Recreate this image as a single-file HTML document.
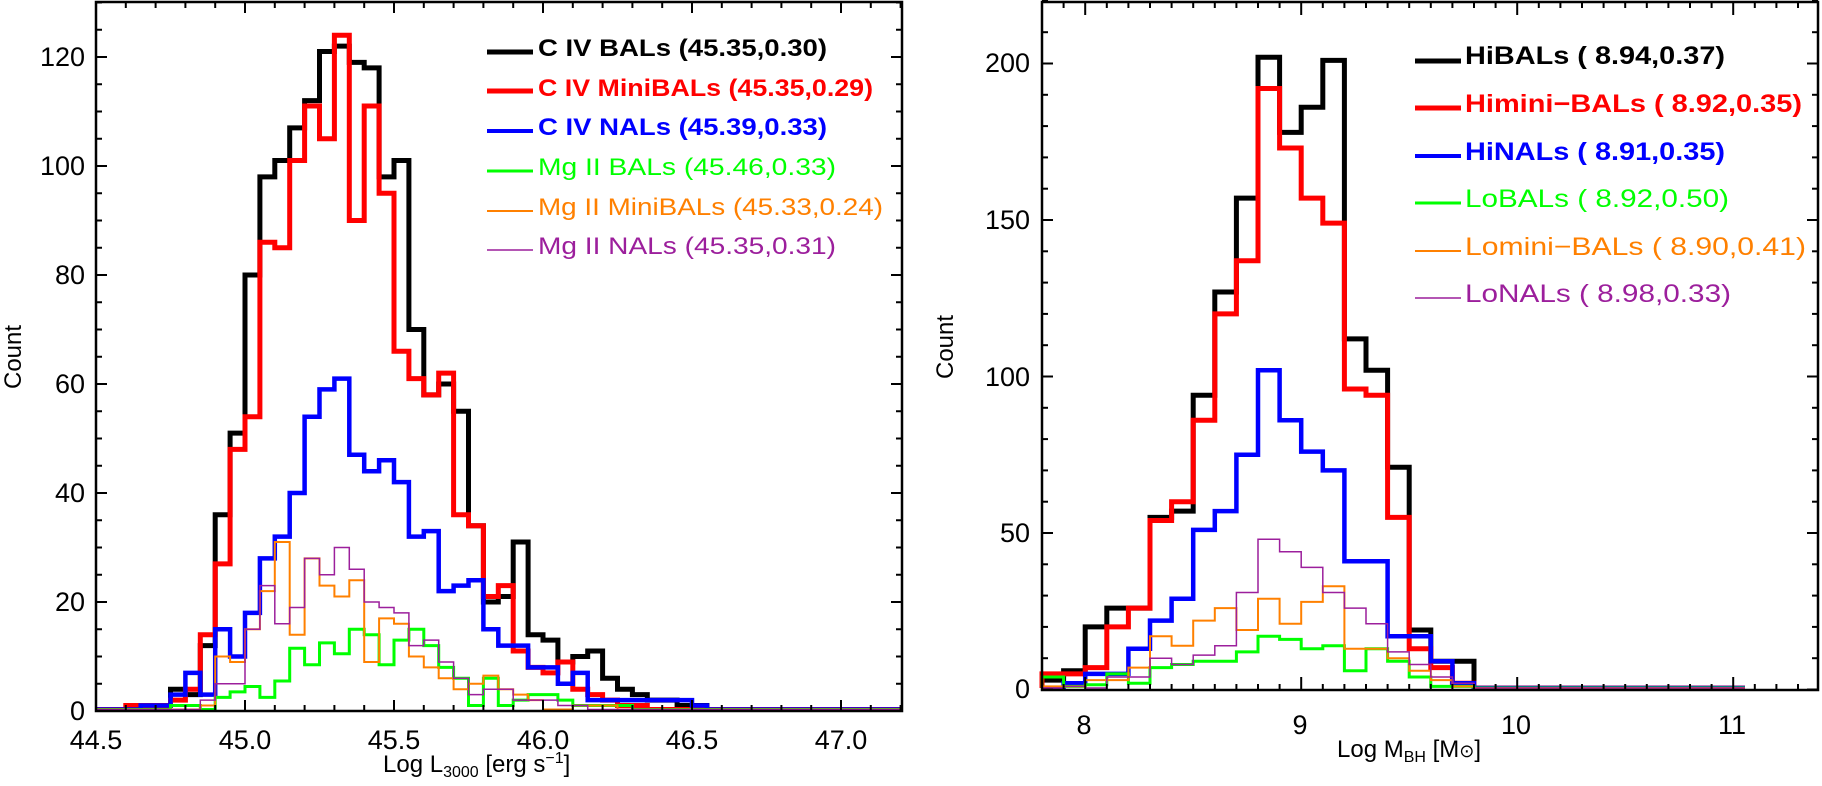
<!DOCTYPE html>
<html><head><meta charset="utf-8">
<style>
html,body{margin:0;padding:0;background:#fff;}
svg{display:block;}
text{font-family:"Liberation Sans","DejaVu Sans",sans-serif;}
</style></head>
<body>
<svg id="s" width="1822" height="786" viewBox="0 0 1822 786" xmlns="http://www.w3.org/2000/svg">
<rect width="1822" height="786" fill="#fff"/>
<g id="lp"></g>
<g id="rp"></g>
<g id="ticks" stroke="#000" stroke-width="2"></g>
<rect x="96" y="2" width="806" height="709" fill="none" stroke="#000" stroke-width="2.5"/>
<rect x="1042" y="2" width="776" height="688" fill="none" stroke="#000" stroke-width="2.5"/>

<g font-size="27" fill="#000" text-anchor="middle">
<text x="96" y="749">44.5</text>
<text x="245" y="749">45.0</text>
<text x="394" y="749">45.5</text>
<text x="543" y="749">46.0</text>
<text x="692" y="749">46.5</text>
<text x="841" y="749">47.0</text>
<text x="1084" y="734">8</text>
<text x="1300" y="734">9</text>
<text x="1516" y="734">10</text>
<text x="1732" y="734">11</text>
</g>
<g font-size="27" fill="#000" text-anchor="end">
<text x="85" y="720">0</text>
<text x="85" y="611">20</text>
<text x="85" y="502">40</text>
<text x="85" y="393">60</text>
<text x="85" y="284">80</text>
<text x="85" y="175">100</text>
<text x="85" y="66">120</text>
<text x="1030" y="698">0</text>
<text x="1030" y="542">50</text>
<text x="1030" y="386">100</text>
<text x="1030" y="229">150</text>
<text x="1030" y="72">200</text>
</g>
<text font-size="24" transform="translate(21,357) rotate(-90)" text-anchor="middle">Count</text>
<text font-size="24" transform="translate(953,347) rotate(-90)" text-anchor="middle">Count</text>
<text font-size="24" x="383" y="772">Log L<tspan font-size="16" dy="5">3000</tspan><tspan dy="-5"> [erg s</tspan><tspan font-size="16" dy="-9">−1</tspan><tspan dy="9">]</tspan></text>
<text font-size="24" x="1337" y="757">Log M<tspan font-size="16" dy="5">BH</tspan><tspan dy="-5"> [M</tspan><tspan font-size="18">⊙</tspan>]</text>

<g>
<line x1="487" y1="52" x2="533" y2="52" stroke="#000" stroke-width="5"/>
<line x1="487" y1="91" x2="533" y2="91" stroke="#f00" stroke-width="5"/>
<line x1="487" y1="131" x2="533" y2="131" stroke="#00f" stroke-width="4"/>
<line x1="487" y1="171" x2="533" y2="171" stroke="#0f0" stroke-width="3"/>
<line x1="487" y1="211" x2="533" y2="211" stroke="#ff8000" stroke-width="2"/>
<line x1="487" y1="250" x2="533" y2="250" stroke="#9c1f9c" stroke-width="1.5"/>
<g font-size="24">
<text x="538" y="56" font-weight="bold" fill="#000" textLength="289" lengthAdjust="spacingAndGlyphs">C IV BALs (45.35,0.30)</text>
<text x="538" y="96" font-weight="bold" fill="#f00" textLength="335" lengthAdjust="spacingAndGlyphs">C IV MiniBALs (45.35,0.29)</text>
<text x="538" y="135" font-weight="bold" fill="#00f" textLength="289" lengthAdjust="spacingAndGlyphs">C IV NALs (45.39,0.33)</text>
<text x="538" y="175" fill="#0f0" textLength="298" lengthAdjust="spacingAndGlyphs">Mg II BALs (45.46,0.33)</text>
<text x="538" y="215" fill="#ff8000" textLength="345" lengthAdjust="spacingAndGlyphs">Mg II MiniBALs (45.33,0.24)</text>
<text x="538" y="254" fill="#9c1f9c" textLength="298" lengthAdjust="spacingAndGlyphs">Mg II NALs (45.35,0.31)</text>
</g>
</g>
<g>
<line x1="1415" y1="61" x2="1461" y2="61" stroke="#000" stroke-width="5"/>
<line x1="1415" y1="108" x2="1461" y2="108" stroke="#f00" stroke-width="5"/>
<line x1="1415" y1="156" x2="1461" y2="156" stroke="#00f" stroke-width="4"/>
<line x1="1415" y1="203" x2="1461" y2="203" stroke="#0f0" stroke-width="3"/>
<line x1="1415" y1="251" x2="1461" y2="251" stroke="#ff8000" stroke-width="2"/>
<line x1="1415" y1="298" x2="1461" y2="298" stroke="#9c1f9c" stroke-width="1.5"/>
<g font-size="25">
<text x="1465" y="64" font-weight="bold" fill="#000" textLength="260" lengthAdjust="spacingAndGlyphs">HiBALs ( 8.94,0.37)</text>
<text x="1465" y="112" font-weight="bold" fill="#f00" textLength="337" lengthAdjust="spacingAndGlyphs">Himini−BALs ( 8.92,0.35)</text>
<text x="1465" y="160" font-weight="bold" fill="#00f" textLength="260" lengthAdjust="spacingAndGlyphs">HiNALs ( 8.91,0.35)</text>
<text x="1465" y="207" fill="#0f0" textLength="264" lengthAdjust="spacingAndGlyphs">LoBALs ( 8.92,0.50)</text>
<text x="1465" y="255" fill="#ff8000" textLength="341" lengthAdjust="spacingAndGlyphs">Lomini−BALs ( 8.90,0.41)</text>
<text x="1465" y="302" fill="#9c1f9c" textLength="266" lengthAdjust="spacingAndGlyphs">LoNALs ( 8.98,0.33)</text>
</g>
</g>
</svg>
<script>
(function(){
var NS="http://www.w3.org/2000/svg";
function hist(g,x0,bw,ybase,sc,arr,xend,col,w){
  var y0=ybase-1.5;
  var d="M"+x0+","+y0;
  for(var i=0;i<arr.length;i++){
    var xa=x0+bw*i, xb=x0+bw*(i+1);
    var y=ybase-sc*arr[i]; if(arr[i]==0) y=y0;
    d+=" L"+xa.toFixed(1)+","+y.toFixed(1)+" L"+xb.toFixed(1)+","+y.toFixed(1);
  }
  d+=" L"+(x0+bw*arr.length).toFixed(1)+","+y0+" L"+xend+","+y0;
  var p=document.createElementNS(NS,"path");
  p.setAttribute("d",d);p.setAttribute("fill","none");p.setAttribute("stroke",col);
  p.setAttribute("stroke-width",w);p.setAttribute("stroke-linejoin","miter");
  g.appendChild(p);
}
var lp=document.getElementById("lp"), rp=document.getElementById("rp");
var L={
black:[0,0,0,1,1,4,3,12,36,51,80,98,101,107,112,121,122,119,118,98,101,70,58,60,55,34,20,21,31,14,13,9,10,11,6,4,3,2,2,1,1,0],
red:[0,0,1,1,1,2,4,14,27,48,54,86,85,101,111,105,124,90,111,95,66,61,58,62,36,34,21,23,11,8,7,9,4,3,2,1,1,0],
blue:[0,0,0,1,1,3,7,3,15,10,18,28,32,40,54,59,61,47,44,46,42,32,33,22,23,24,15,12,12,8,8,5,7,2,2,2,2,2,2,2,1,0],
green:[0,0,0,0,0,1,1,0,2.5,3.5,4.5,2.5,5.5,11.5,8.5,12.5,10.5,15,14,8.5,13,15,12,8,6,1,6,1,2,3,3,2,1,1,1,1,0],
orange:[0,0,0,0,0,0,0,1,10,9,15,22,31,14,28,23,21,24,9,17,16,10,8,6,4,5,6.5,4,3,2,0,0,1,1,1,0],
purple:[0,0,0,0,0,0,0,2,5,5,15,23,16,19,28,25,30,26,20,19,18,12,13,9,6,3,4,4,2,2,2,1,1,0]
};
var R={
black:[3,6,20,26,26,55,57,94,127,157,202,178,186,201,112,102,71,19,9,9,0],
red:[5,5,7,20,26,54,60,86,120,137,192,173,157,149,96,94,55,13,7,2,0],
blue:[0,2,5,5,13,22,29,51,57,75,102,86,76,70,41,41,17,17,9,2,0],
green:[4,1,1.5,5,2,7,8,9,9,12,17,16,13,14,6,13,9,4,1,1,0],
orange:[1,1,3,3,7,17,14,22,26,19,29,21,28,33,13,13,10,6,3,1,0],
purple:[0,1,0,4,4,10,8,11,14,31,48,44,39,31,26,21,12,8,4,2,0]
};
var st=[["black","#000",5],["red","#f00",5],["blue","#00f",4.5],["green","#0f0",3],["orange","#ff8000",2],["purple","#9c1f9c",1.5]];
st.forEach(function(s){
  hist(lp,96,14.9,711,5.45,L[s[0]],901,s[1],s[2]);
  hist(rp,1042,21.6,689.5,3.13,R[s[0]],1745,s[1],s[2]);
});
var tg=document.getElementById("ticks");
function ln(x1,y1,x2,y2){var l=document.createElementNS(NS,"line");l.setAttribute("x1",x1);l.setAttribute("y1",y1);l.setAttribute("x2",x2);l.setAttribute("y2",y2);tg.appendChild(l);}
for(var i=0;i<=27;i++){var x=96+29.8*i;var len=(i%5==0)?11:6;ln(x,711,x,711-len);ln(x,2,x,2+len);}
for(var c=0;c<=130;c+=5){var y=711-5.45*c;var len=(c%20==0)?11:6;ln(96,y,96+len,y);ln(902,y,902-len,y);}
for(var i=0;i<=35;i++){var m=7.8+0.1*i;var x=1042+21.6*i;var len=(Math.abs(m-Math.round(m))<0.01)?13:6;ln(x,690,x,690-len);ln(x,2,x,2+len);}
for(var c=0;c<=220;c+=10){var y=689.5-3.13*c;var len=(c%50==0)?11:6;ln(1042,y,1042+len,y);ln(1818,y,1818-len,y);}
})();
</script>
</body></html>
